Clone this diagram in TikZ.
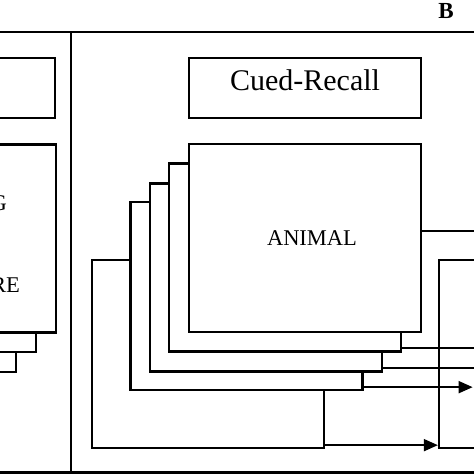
\documentclass[tikz,border=0pt]{standalone}
\usepackage{fontspec}
\setmainfont{Liberation Serif}
\usetikzlibrary{arrows.meta, positioning}

\begin{document}
\begin{tikzpicture}[
    x=1pt, y=-1pt,
    card/.style={rectangle, draw=black, fill=white, line width=2.3pt, minimum width=232pt, minimum height=188pt, inner sep=0pt},
    head/.style={rectangle, draw=black, fill=white, line width=2.3pt, minimum width=232pt, minimum height=60pt, inner sep=0pt},
    frame/.style={line width=2.2pt},
    link/.style={line width=1.8pt},
    arrow/.style={line width=1.8pt, -{Triangle[length=14pt,width=12pt]}},
    word/.style={font=\fontsize{22.5}{24}\selectfont}
]
\useasboundingbox (0,0) rectangle (474,474);
\clip (0,0) rectangle (474,474);

% Frame
\draw[frame] (0,32) -- (474,32);
\draw[frame] (71,32) -- (71,473);
\draw[line width=3.5pt] (0,473) -- (474,473);
\node[font=\bfseries\fontsize{23}{25}\selectfont] (panel) at (446,11) {B};

% Left panel
\node[head, minimum width=120pt] (prevhead) at (-5,88) {};
\node[card] (prev3) at (-100,278) {};
\node[card] (prev2) at (-80,258) {};
\node[card] (prev1) at (-60,238.5) {};
\node[word, anchor=base east, inner sep=0pt] (prevtop) at (7,210) {G};
\node[word, anchor=base east, inner sep=0pt] (prevbot) at (20,292) {RE};

% Right panel
\node[head, font=\fontsize{30}{32}\selectfont, text depth=16pt] (cue) at (305,88) {Cued-Recall};
\node[card, fill=none, minimum width=100pt] (out) at (489,354) {};

% Stacked cards
\node[card] (word5) at (208,354) {};
\node[card] (word4) at (246.5,296) {};
\node[card] (word3) at (266,277.5) {};
\node[card] (word2) at (285,257.5) {};
\node[card, word, text depth=-6pt, inner xsep=0pt] (word1) at (305,238) {\hspace*{14pt}ANIMAL};

% Arrows
\draw[link] ([yshift=7pt]word1.east) -- ++(60,0);
\draw[link] ([yshift=5pt]word2.south east) -- ++(80,0);
\draw[link] ([yshift=5pt]word3.south east) -- ++(100,0);
\draw[arrow] ([yshift=4pt]word4.south east) -- ++(109,0);
\draw[arrow] ([yshift=4pt]word5.south east) -- ([yshift=4pt]out.south west);

\end{tikzpicture}
\end{document}
